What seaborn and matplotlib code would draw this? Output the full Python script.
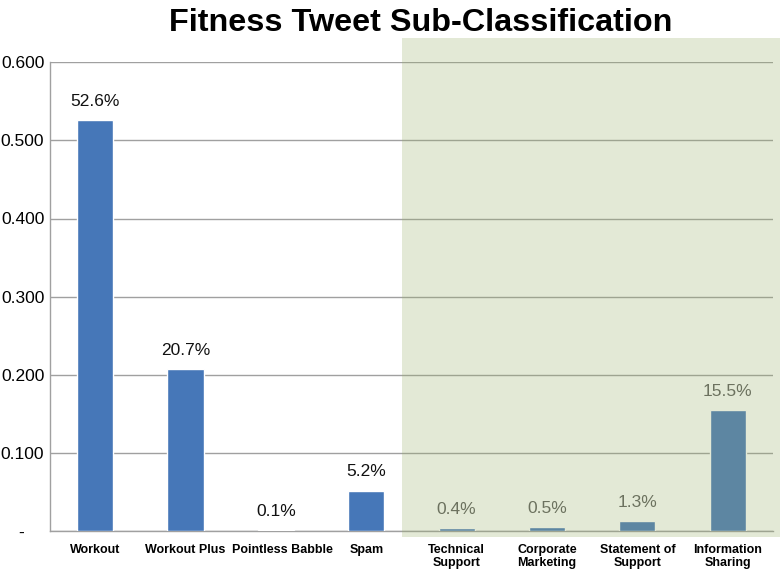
import numpy as np
import pandas as pd
import seaborn as sns
import matplotlib.pyplot as plt
import matplotlib.transforms as mtransforms
from matplotlib.patches import Rectangle

# data
categories = ['Workout', 'Workout Plus', 'Pointless Babble', 'Spam',
              'Technical\nSupport', 'Corporate\nMarketing',
              'Statement of\nSupport', 'Information\nSharing']
shares = [0.526, 0.207, 0.001, 0.052, 0.004, 0.005, 0.013, 0.155]
yticks = [0.0, 0.1, 0.2, 0.3, 0.4, 0.5, 0.6]
ytick_labels = ['-    ', '0.100', '0.200', '0.300', '0.400', '0.500', '0.600']

sns.set_style('white', {'text.color': 'black', 'xtick.color': 'black',
                        'ytick.color': 'black'})
plt.rcParams['font.family'] = ['Liberation Sans', 'DejaVu Sans']

fig = plt.figure(figsize=(7.8, 5.7), dpi=100)
ax = fig.add_axes([0.064, 0.068, 0.927, 0.823])

df = pd.DataFrame({'cat': categories, 'share': shares})
sns.barplot(data=df, x='cat', y='share', color='#4677b8', saturation=1,
            width=0.4, ax=ax, zorder=3)

ax.set_ylim(0, 0.6)
ax.set_xlim(-0.5, 7.5)
ax.set_yticks(yticks)
ax.set_yticklabels(ytick_labels, fontsize=12.5)
ax.yaxis.grid(True, color='#a0a0a0', linewidth=1.0, zorder=0)
ax.set_axisbelow(True)
ax.tick_params(axis='y', length=0, pad=4, labelcolor='black')
ax.tick_params(axis='x', length=0, pad=9, labelcolor='black')
ax.set_xticks(range(len(categories)))
ax.set_xticklabels(categories, fontsize=9, fontweight='bold', linespacing=1.15)
ax.set_xlabel('')
ax.set_ylabel('')

# nudge the crowded label to the right like the original
lbl = ax.get_xticklabels()[2]
lbl.set_transform(lbl.get_transform() +
                  mtransforms.ScaledTranslation(7 / 100, 0, fig.dpi_scale_trans))

for side in ['top', 'right']:
    ax.spines[side].set_visible(False)
for side in ['left', 'bottom']:
    ax.spines[side].set_color('#a0a0a0')
    ax.spines[side].set_linewidth(1.0)

# value labels
for i, v in enumerate(shares):
    col = '#111111' if i < 4 else '#5a5a5a'
    ax.annotate(f'{v*100:.1f}%', (i, v), xytext=(0, 8), textcoords='offset points',
                ha='center', va='bottom', fontsize=12.5, color=col)

# translucent green box over the right half
fig.add_artist(Rectangle((0.515, 0.058), 0.485, 0.875, transform=fig.transFigure,
                         facecolor='#9bb06c', alpha=0.28, edgecolor='none', zorder=5))

fig.text(0.539, 0.96, 'Fitness Tweet Sub-Classification', ha='center', va='center',
         fontsize=23.3, fontweight='bold', color='black')

fig.savefig('out.png', dpi=100)
